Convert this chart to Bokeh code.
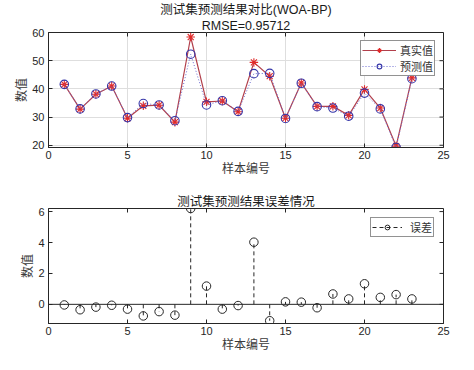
import math
from bokeh.plotting import figure
from bokeh.models import (Title, FixedTicker, Legend, LegendItem, Span, ColumnDataSource)
from bokeh.layouts import column
from bokeh.embed import file_html
from bokeh.resources import INLINE

# ---- data ----
sample_idx = list(range(1, 24))
true_vals = [41.6, 32.8, 38.1, 41.0, 29.6, 34.0, 34.2, 28.2, 58.4, 35.4, 35.7, 31.9,
             49.4, 44.5, 29.6, 42.1, 33.8, 33.8, 30.6, 39.8, 33.2, 19.7, 43.9]
pred_vals = [41.6, 32.9, 38.2, 41.0, 29.8, 34.8, 34.3, 28.7, 52.3, 34.3, 35.8, 32.0,
             45.4, 45.5, 29.5, 42.0, 33.7, 33.2, 30.3, 38.5, 32.9, 19.2, 43.6]
err_vals = [-0.04, -0.35, -0.18, -0.06, -0.31, -0.75, -0.47, -0.70, 6.20, 1.18, -0.31, -0.08,
            4.02, -1.06, 0.16, 0.14, -0.22, 0.67, 0.35, 1.33, 0.45, 0.63, 0.35]
x_ticks = [0, 5, 10, 15, 20, 25]
y_ticks_top = [20, 30, 40, 50, 60]
y_ticks_bottom = [0, 2, 4, 6]
x_lim = (0, 25)
y_lim_top = (19.2, 60)
y_lim_bottom = (-1.24, 6.2)
zeros = [0] * len(sample_idx)

title_top_1 = "测试集预测结果对比(WOA-BP)"
title_top_2 = "RMSE=0.95712"
title_bottom = "测试集预测结果误差情况"
xlabel = "样本编号"
ylabel = "数值"
label_true = "真实值"
label_pred = "预测值"
label_err = "误差"

MIX = "Liberation Sans, Noto Sans CJK SC"
LAT = "Liberation Sans"
AX = "#262626"


def style_axes(p, yt, ylim):
    for ax, ticks in ((p.xaxis[0], x_ticks), (p.yaxis[0], yt)):
        ax.ticker = FixedTicker(ticks=ticks)
        ax.major_tick_in = 4
        ax.major_tick_out = 0
        ax.minor_tick_line_color = None
        ax.axis_line_color = AX
        ax.major_tick_line_color = AX
        ax.major_label_text_font = LAT
        ax.major_label_text_font_size = "11px"
        ax.major_label_text_color = AX
        ax.axis_label_text_font = MIX
        ax.axis_label_text_font_size = "12px"
        ax.axis_label_text_font_style = "normal"
        ax.axis_label_text_color = "#3a3a3a"
    p.xaxis[0].major_label_standoff = 3
    p.xaxis[0].axis_label_standoff = 0
    p.yaxis[0].major_label_standoff = 4
    p.yaxis[0].axis_label_standoff = 0
    p.xaxis[0].axis_label = xlabel
    p.yaxis[0].axis_label = ylabel
    # mirrored inward ticks on the right and top edges (box on)
    p.ray(x=[x_lim[1]] * len(yt), y=yt, length=4, length_units="screen",
          angle=math.pi, line_color=AX, line_width=1)
    p.ray(x=x_ticks, y=[ylim[1]] * len(x_ticks), length=4, length_units="screen",
          angle=-math.pi / 2, line_color=AX, line_width=1)
    p.outline_line_color = AX
    p.outline_line_alpha = 1.0


def add_title(p, text, size="12.5px"):
    t = Title(text=text, align="center", text_font=MIX, text_font_size=size,
              text_font_style="normal", text_color="#1a1a1a", standoff=0, offset=0)
    p.add_layout(t, "above")


# ---- top chart ----
p1 = figure(width=458, height=178, x_range=x_lim, y_range=y_lim_top,
            output_backend="svg", toolbar_location=None, title=None,
            min_border_left=48, min_border_right=15, min_border_top=32, min_border_bottom=29)
style_axes(p1, y_ticks_top, y_lim_top)
add_title(p1, title_top_2)
add_title(p1, title_top_1)
p1.xgrid.ticker = FixedTicker(ticks=x_ticks)
p1.ygrid.ticker = FixedTicker(ticks=y_ticks_top)
p1.grid.grid_line_color = "#dedede"
p1.grid.grid_line_width = 1

src = ColumnDataSource(dict(x=sample_idx, t=true_vals, p=pred_vals, e=err_vals, z=zeros))

l_true = p1.line("x", "t", source=src, line_color="#b2404c", line_width=1.2)
m_true = p1.scatter("x", "t", source=src, marker="asterisk", size=8.5,
                    line_color="#e02a2a", line_width=1.1)
l_pred = p1.line("x", "p", source=src, line_color="#6a6ad0", line_width=1, line_dash="1 2")
m_pred = p1.scatter("x", "p", source=src, marker="circle", size=8.5, fill_color=None,
                    line_color="#3535a8", line_width=1.1)

leg1 = Legend(items=[LegendItem(label=label_true, renderers=[l_true, m_true]),
                     LegendItem(label=label_pred, renderers=[l_pred, m_pred])],
              location="top_right", margin=8, padding=1, spacing=0,
              glyph_width=34, glyph_height=12, label_standoff=4, label_height=12,
              label_text_font=MIX, label_text_font_size="11px", label_text_color="#333333",
              border_line_color=AX, border_line_width=1, background_fill_color="white")
p1.add_layout(leg1, "center")

# ---- bottom chart ----
p2 = figure(width=458, height=176, x_range=x_lim, y_range=y_lim_bottom,
            output_backend="svg", toolbar_location=None, title=None,
            min_border_left=48, min_border_right=15, min_border_top=30, min_border_bottom=29)
style_axes(p2, y_ticks_bottom, y_lim_bottom)
add_title(p2, title_bottom)
p2.grid.grid_line_color = None

base = Span(location=0, dimension="width", line_color=AX, line_width=1)
p2.add_layout(base)
stems = p2.segment("x", "z", "x", "e", source=src, line_color=AX, line_width=1, line_dash="4 3")
heads = p2.scatter("x", "e", source=src, marker="circle", size=8.5, fill_color="white",
                   fill_alpha=0, line_color=AX, line_width=1)

leg2 = Legend(items=[LegendItem(label=label_err, renderers=[stems, heads])],
              location="top_right", margin=9, padding=1, spacing=0,
              glyph_width=30, glyph_height=12, label_standoff=8, label_height=12,
              label_text_font=MIX, label_text_font_size="11px", label_text_color="#333333",
              border_line_color=AX, border_line_width=1, background_fill_color="white")
p2.add_layout(leg2, "center")

layout = column(p1, p2, spacing=0)
open("out.html", "w").write(file_html(layout, INLINE))
